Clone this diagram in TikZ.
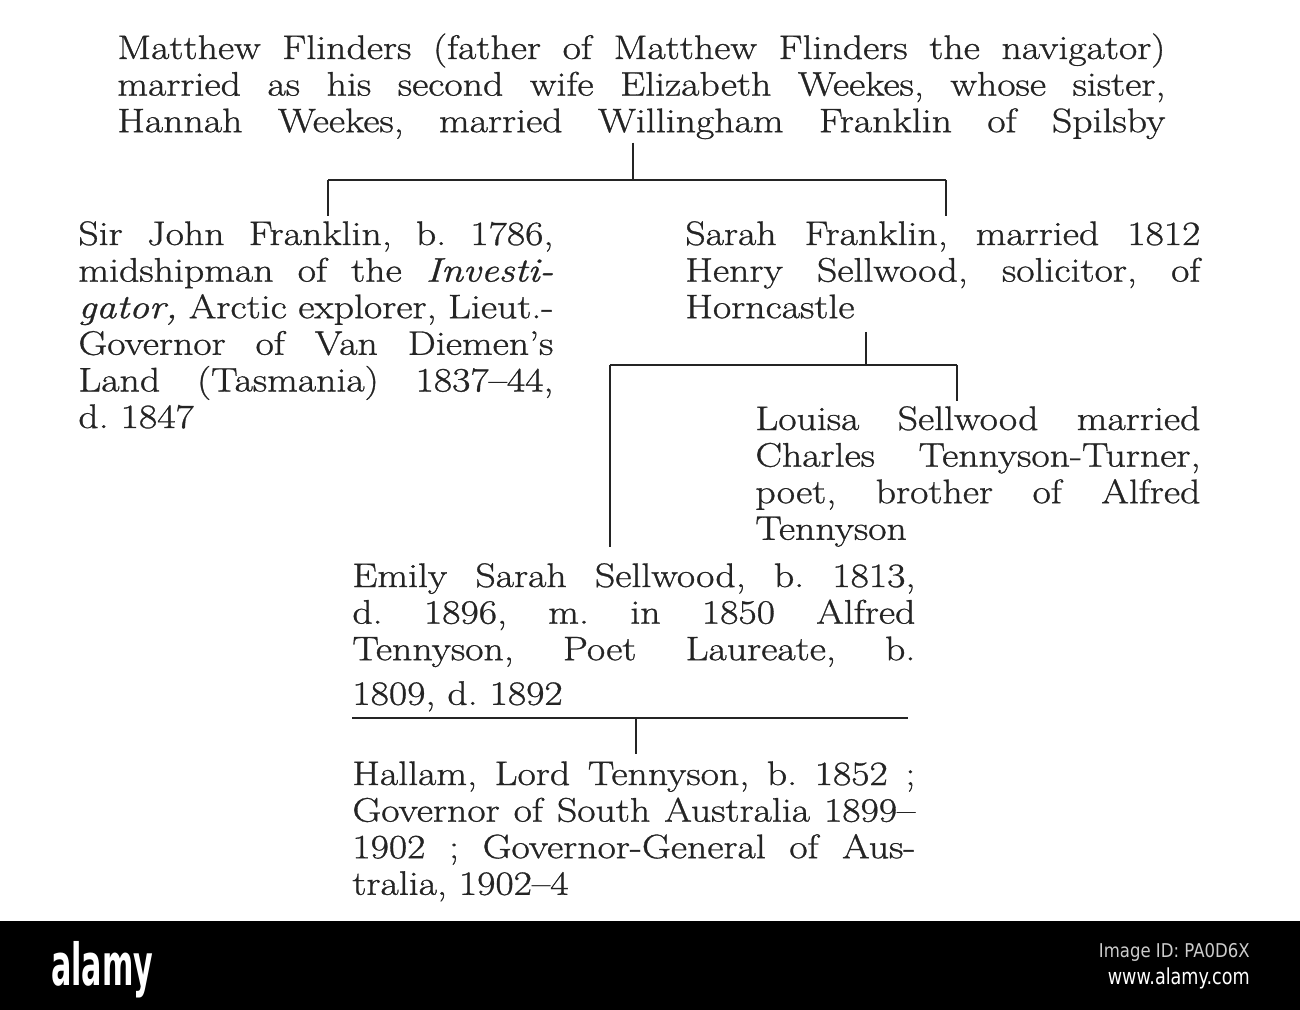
\documentclass[tikz,border=0pt]{standalone}
\usepackage{tikz}
\usepackage{fontspec}
\usepackage{xcolor}
\setmainfont{Latin Modern Roman}[FakeStretch=1.17,FakeBold=0.9]
\newfontfamily\wmfont{DejaVu Sans}
\definecolor{ink}{HTML}{242424}
\newcommand\famfont{\fontsize{17}{18.3}\selectfont\frenchspacing}
\newcommand\famtext[2]{\vtop{\hsize=#1\relax #2}}
\newcommand\fullline[1]{\hbox to\hsize{#1}}
\newcommand\shortline[1]{\hbox{#1}}

\begin{document}
\begin{tikzpicture}[x=0.5pt,y=-0.5pt,
  fam/.style={inner sep=0pt,anchor=base west,text=ink,font=\famfont},
  bar/.style={draw=ink,line width=1.3pt},
  stub/.style={draw=ink,line width=1pt},
  wm/.style={inner sep=0pt,font=\wmfont}]
\fill[white] (0,0) rectangle (1300,1010);
\fill[black] (0,921) rectangle (1300,1010);
\useasboundingbox (0,0) rectangle (1300,1010);

\node[fam] (mf) at (117,59) {\famtext{524pt}{%
  \fullline{Matthew Flinders (father of Matthew Flinders the navigator)}
  \fullline{married as his second wife Elizabeth Weekes, whose sister,}
  \fullline{Hannah Weekes, married Willingham Franklin of Spilsby}}};
\node[fam] (sj) at (78,245) {\famtext{237.5pt}{%
  \fullline{Sir John Franklin, b. 1786,}
  \fullline{midshipman of the \textit{Investi-}}
  \fullline{\textit{gator,} Arctic explorer, Lieut.-}
  \fullline{Governor of Van Diemen's}
  \fullline{Land (Tasmania) 1837--44,}
  \shortline{d. 1847}}};
\node[fam] (sf) at (685,245) {\famtext{257.5pt}{%
  \fullline{Sarah Franklin, married 1812}
  \fullline{Henry Sellwood, solicitor, of}
  \shortline{Horncastle}}};
\node[fam] (ls) at (755,430) {\famtext{222.5pt}{%
  \fullline{Louisa Sellwood married}
  \fullline{Charles Tennyson-Turner,}
  \fullline{poet, brother of Alfred}
  \shortline{Tennyson}}};
\node[fam] (es) at (352,587) {\famtext{281.5pt}{%
  \fullline{Emily Sarah Sellwood, b. 1813,}
  \fullline{d. 1896, m. in 1850 Alfred}
  \fullline{Tennyson, Poet Laureate, b.}
  \vskip4pt
  \shortline{1809, d. 1892}}};
\node[fam] (hl) at (352,785) {\famtext{281.5pt}{%
  \fullline{Hallam, Lord Tennyson, b. 1852 ;}
  \fullline{Governor of South Australia 1899--}
  \fullline{1902 ; Governor-General of Aus-}
  \shortline{tralia, 1902--4}}};

\coordinate (b1) at (633,180);
\coordinate (b1l) at (328,180);
\coordinate (b1r) at (946,180);
\coordinate (b2) at (866,365);
\coordinate (b2l) at (610,365);
\coordinate (b2r) at (957,365);
\coordinate (b3) at (636,718);
\coordinate (b3l) at (352,718);
\coordinate (b3r) at (908,718);

\draw[stub] ([yshift=-1.5pt]mf.south -| b1) -- (b1);
\draw[bar] (b1l) -- (b1r);
\draw[stub] (b1l) -- ([yshift=2.5pt]sj.north -| b1l);
\draw[stub] (b1r) -- ([yshift=2.5pt]sf.north -| b1r);
\draw[stub] ([yshift=-6.5pt]sf.south -| b2) -- (b2);
\draw[bar] (b2l) -- (b2r);
\draw[stub] (b2r) -- ([yshift=2.5pt]ls.north -| b2r);
\draw[stub] (b2l) -- ([yshift=8pt]es.north -| b2l);
\draw[bar] (b3l) -- (b3r);
\draw[stub] (b3) -- ([yshift=3.5pt]hl.north -| b3);

\node[wm,anchor=base west,text=white,xscale=0.52,font=\wmfont\bfseries\fontsize{29}{29}\selectfont] (logo) at (51,985) {alamy};
\node[wm,anchor=east,text=white!80!black,xscale=0.87,font=\wmfont\fontsize{9.5}{9.5}\selectfont] (imgid) at (1250,952) {Image ID: PA0D6X};
\node[wm,anchor=east,text=white,xscale=0.8,font=\wmfont\fontsize{11}{11}\selectfont] (site) at (1250,978) {www.alamy.com};
\end{tikzpicture}
\end{document}
